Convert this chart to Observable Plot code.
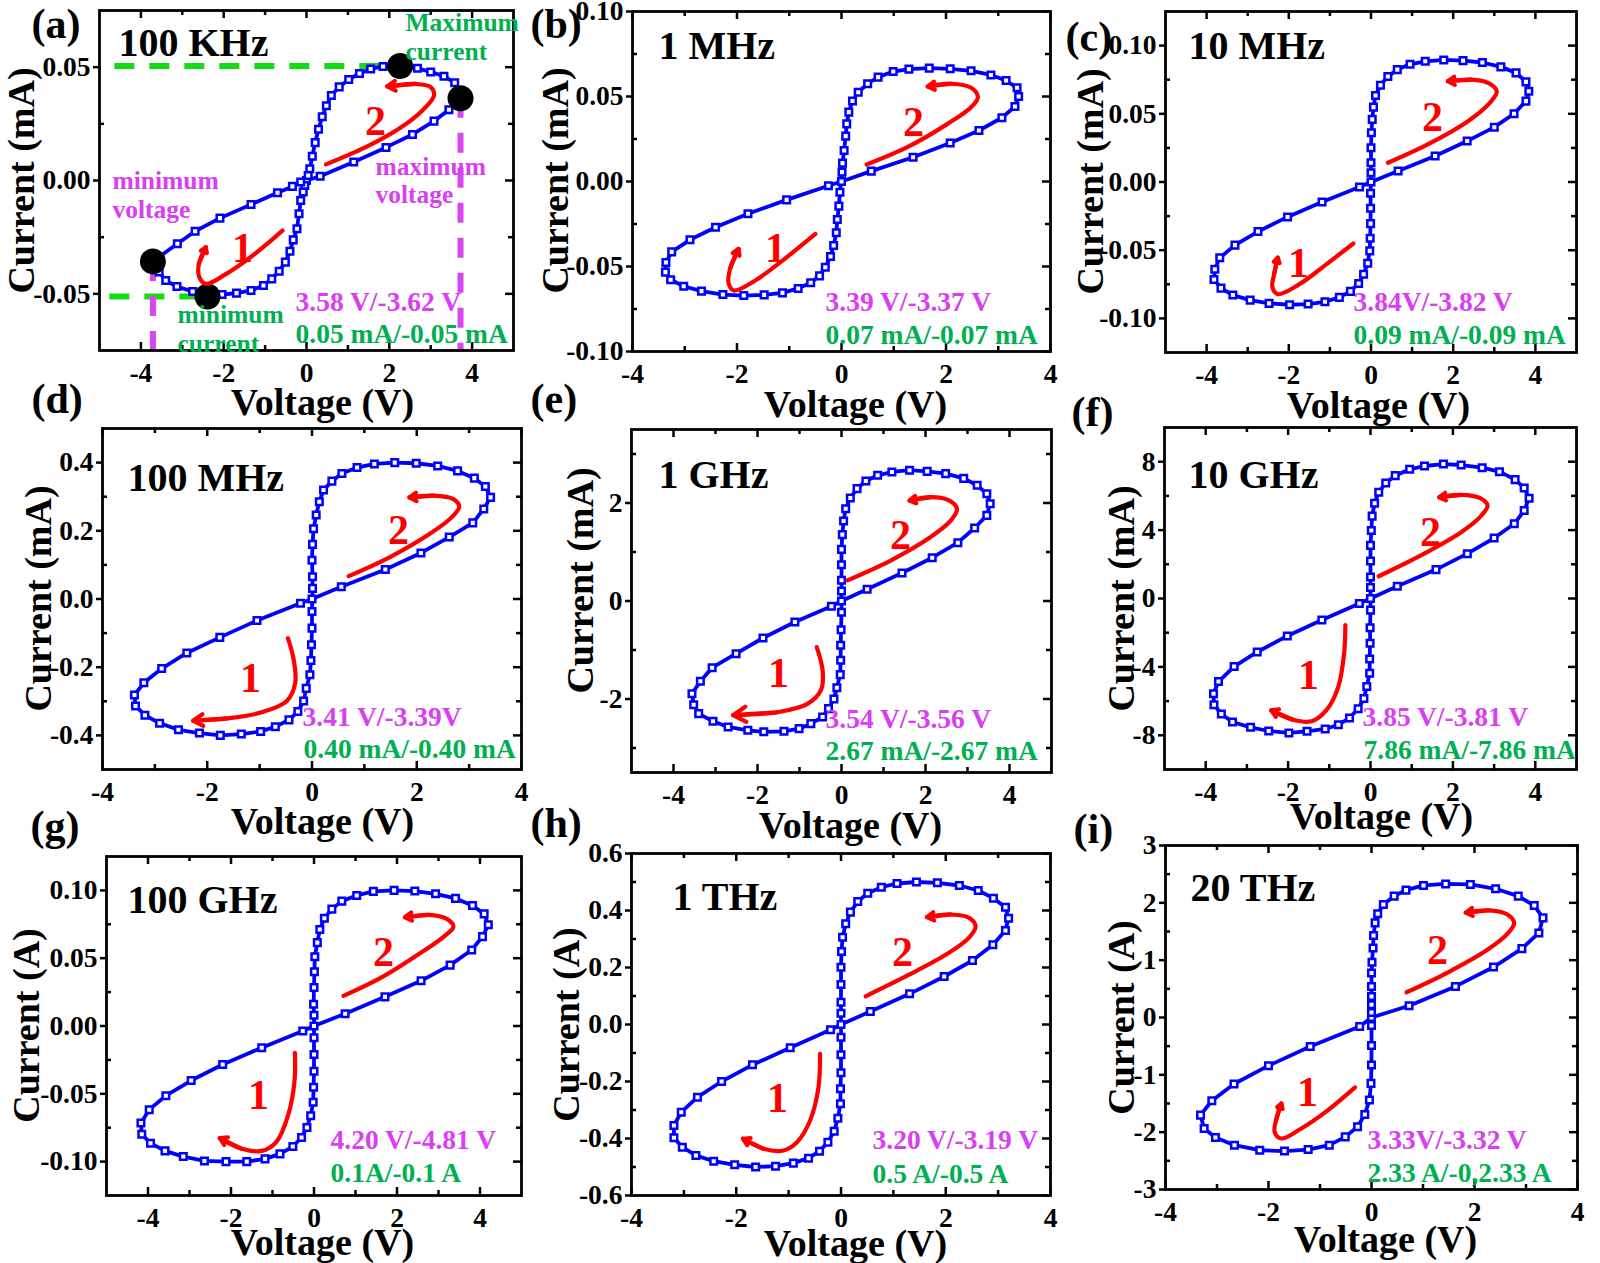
<!DOCTYPE html>
<html>
<head>
<meta charset="utf-8">
<script src="https://cdn.jsdelivr.net/npm/d3@7"></script>
<script src="https://cdn.jsdelivr.net/npm/@observablehq/plot@0.6"></script>
<style>
  html, body { margin: 0; padding: 0; background: #fff; }
  #fig { position: relative; width: 1600px; height: 1263px; overflow: hidden; background: #fff; }
  #fig svg { position: absolute; left: 0; top: 0; }
</style>
</head>
<body>
<div id="fig"></div>
<script>
// ---------- measured I–V loops: [voltage (V), current] ----------
const loopA = [[0,0],[0.33,0.0019],[1.14,0.0082],[1.92,0.0146],[2.56,0.0203],[3.08,0.0262],[3.44,0.0312],[3.72,0.0363],[3.58,0.0431],[3.32,0.0460],[3.00,0.0479],[2.68,0.0495],[2.26,0.0505],[1.85,0.0503],[1.55,0.0492],[1.28,0.0472],[1.02,0.0446],[0.79,0.0413],[0.60,0.0375],[0.48,0.0330],[0.38,0.0281],[0.29,0.0226],[0.21,0.0167],[0.14,0.0107],[0.08,0.0052],[0.04,0.0022],
  [-0.04,-0.0022],[-0.08,-0.0051],[-0.14,-0.0088],[-0.18,-0.0147],[-0.23,-0.0213],[-0.32,-0.0262],[-0.40,-0.0312],[-0.51,-0.0360],[-0.66,-0.0400],[-0.84,-0.0434],[-1.04,-0.0463],[-1.34,-0.0485],[-1.69,-0.0497],[-2.04,-0.0503],[-2.39,-0.0512],[-2.75,-0.0490],[-3.13,-0.0468],[-3.40,-0.0441],[-3.56,-0.0404],[-3.71,-0.0357],[-3.12,-0.0279],[-2.69,-0.0224],[-2.09,-0.0166],[-1.34,-0.0106],[-0.70,-0.0054],[-0.34,-0.0026],[-0.14,-0.0007]];
const loopB = [[0,0],[0.57,0.0061],[1.37,0.0143],[2.08,0.0226],[2.63,0.0300],[3.07,0.0375],[3.32,0.0441],[3.39,0.0500],[3.36,0.0551],[3.15,0.0594],[2.86,0.0627],[2.48,0.0651],[2.08,0.0663],[1.68,0.0667],[1.29,0.0661],[0.99,0.0647],[0.70,0.0614],[0.50,0.0575],[0.32,0.0525],[0.21,0.0473],[0.14,0.0408],[0.10,0.0339],[0.08,0.0267],[0.05,0.0182],[0.02,0.0108],[0.01,0.0055],
  [-0.03,-0.0063],[-0.05,-0.0145],[-0.08,-0.0224],[-0.10,-0.0302],[-0.15,-0.0376],[-0.21,-0.0441],[-0.31,-0.0504],[-0.42,-0.0555],[-0.59,-0.0596],[-0.83,-0.0629],[-1.13,-0.0655],[-1.48,-0.0667],[-1.87,-0.0671],[-2.27,-0.0665],[-2.68,-0.0645],[-3.02,-0.0616],[-3.27,-0.0578],[-3.37,-0.0533],[-3.36,-0.0476],[-3.25,-0.0414],[-2.90,-0.0343],[-2.41,-0.0269],[-1.79,-0.0190],[-1.05,-0.0108],[-0.25,-0.0025]];
const loopC = [[0,0],[0.66,0.0081],[1.56,0.0190],[2.34,0.0300],[3.00,0.0402],[3.48,0.0500],[3.77,0.0593],[3.84,0.0666],[3.77,0.0734],[3.53,0.0800],[3.16,0.0844],[2.71,0.0876],[2.24,0.0890],[1.77,0.0895],[1.32,0.0885],[0.95,0.0863],[0.64,0.0824],[0.41,0.0773],[0.23,0.0710],[0.11,0.0634],[0.06,0.0549],[0.03,0.0459],[0.01,0.0361],[0,0.0251],[0,0.0141],[0,0.0068],
  [-0.01,-0.0083],[-0.01,-0.0193],[-0.01,-0.0305],[-0.02,-0.0412],[-0.03,-0.0505],[-0.08,-0.0595],[-0.18,-0.0676],[-0.30,-0.0744],[-0.50,-0.0802],[-0.77,-0.0846],[-1.12,-0.0878],[-1.53,-0.0895],[-1.98,-0.0900],[-2.48,-0.0890],[-2.94,-0.0866],[-3.36,-0.0829],[-3.65,-0.0778],[-3.82,-0.0715],[-3.80,-0.0639],[-3.68,-0.0556],[-3.31,-0.0463],[-2.75,-0.0363],[-2.03,-0.0256],[-1.19,-0.0146],[-0.28,-0.0037]];
const loopD = [[0,0],[0.56,0.0359],[1.40,0.0864],[2.08,0.135],[2.62,0.1816],[3.07,0.2233],[3.28,0.2641],[3.41,0.2981],[3.31,0.3301],[3.10,0.3544],[2.78,0.3757],[2.40,0.3903],[1.99,0.3981],[1.58,0.4000],[1.19,0.3961],[0.86,0.3854],[0.57,0.3680],[0.38,0.3456],[0.22,0.3194],[0.14,0.2854],[0.08,0.2466],[0.03,0.2058],[0.01,0.1602],[0,0.1136],[0.01,0.0650],[0.01,0.0311],
  [0,-0.0369],[0,-0.0854],[-0.01,-0.1340],[-0.02,-0.1806],[-0.04,-0.2223],[-0.11,-0.2621],[-0.16,-0.2990],[-0.27,-0.3301],[-0.44,-0.3544],[-0.70,-0.3748],[-0.98,-0.3883],[-1.35,-0.3961],[-1.75,-0.4000],[-2.15,-0.3932],[-2.55,-0.3835],[-2.91,-0.3641],[-3.19,-0.3408],[-3.37,-0.3136],[-3.39,-0.2816],[-3.21,-0.2456],[-2.87,-0.2039],[-2.39,-0.1583],[-1.76,-0.1126],[-1.05,-0.0631],[-0.22,-0.0126]];
const loopE = [[0,0],[0.61,0.238],[1.44,0.571],[2.16,0.884],[2.77,1.190],[3.17,1.490],[3.46,1.748],[3.54,1.986],[3.46,2.190],[3.23,2.361],[2.91,2.503],[2.48,2.599],[2.04,2.646],[1.62,2.670],[1.20,2.633],[0.86,2.565],[0.58,2.449],[0.37,2.293],[0.21,2.102],[0.10,1.884],[0.05,1.633],[0.02,1.354],[0,1.054],[0,0.741],[0,0.422],[0,0.204],
  [0,-0.231],[-0.01,-0.585],[-0.02,-0.905],[-0.02,-1.211],[-0.03,-1.503],[-0.11,-1.769],[-0.18,-2.000],[-0.31,-2.197],[-0.45,-2.367],[-0.73,-2.503],[-1.01,-2.605],[-1.37,-2.660],[-1.85,-2.670],[-2.23,-2.639],[-2.70,-2.571],[-3.06,-2.456],[-3.40,-2.299],[-3.52,-2.116],[-3.56,-1.891],[-3.36,-1.639],[-3.08,-1.361],[-2.51,-1.075],[-1.87,-0.755],[-1.11,-0.429],[-0.24,-0.109]];
const loopF = [[0,0],[0.65,0.718],[1.59,1.689],[2.35,2.621],[3.00,3.534],[3.49,4.369],[3.73,5.146],[3.85,5.864],[3.73,6.466],[3.51,6.951],[3.13,7.417],[2.71,7.650],[2.20,7.806],[1.77,7.860],[1.31,7.748],[0.95,7.553],[0.60,7.184],[0.37,6.757],[0.20,6.214],[0.10,5.573],[0.04,4.816],[0.02,3.981],[0,3.107],[0,2.194],[0,1.262],[0,0.641],
  [0,-0.680],[-0.01,-1.709],[-0.01,-2.621],[-0.02,-3.534],[-0.02,-4.369],[-0.09,-5.146],[-0.16,-5.845],[-0.30,-6.447],[-0.51,-6.990],[-0.78,-7.379],[-1.10,-7.631],[-1.54,-7.767],[-1.98,-7.860],[-2.47,-7.748],[-2.91,-7.534],[-3.35,-7.223],[-3.62,-6.757],[-3.80,-6.214],[-3.81,-5.573],[-3.69,-4.854],[-3.31,-3.981],[-2.75,-3.126],[-2.02,-2.194],[-1.18,-1.262],[-0.27,-0.291]];
const loopG = [[0,0],[0.75,0.0091],[1.71,0.0215],[2.58,0.0333],[3.28,0.0449],[3.80,0.0560],[4.06,0.0659],[4.20,0.0746],[4.10,0.0827],[3.82,0.0889],[3.41,0.0941],[2.93,0.0975],[2.43,0.0995],[1.93,0.1000],[1.43,0.0993],[1.03,0.0963],[0.67,0.0921],[0.43,0.0862],[0.25,0.0795],[0.14,0.0711],[0.08,0.0615],[0.02,0.0511],[0.01,0.0400],[0,0.0284],[-0.01,0.0160],[0,0.0079],
  [0,-0.0086],[0,-0.0210],[0,-0.0333],[-0.01,-0.0452],[-0.02,-0.0563],[-0.08,-0.0662],[-0.17,-0.0748],[-0.30,-0.0822],[-0.51,-0.0889],[-0.82,-0.0943],[-1.18,-0.0980],[-1.62,-0.1000],[-2.12,-0.1000],[-2.64,-0.0995],[-3.15,-0.0963],[-3.59,-0.0921],[-3.94,-0.0864],[-4.15,-0.0798],[-4.17,-0.0716],[-3.97,-0.0617],[-3.57,-0.0514],[-2.96,-0.0402],[-2.20,-0.0284],[-1.26,-0.0160],[-0.27,-0.0037]];
const loopH = [[0,0],[0.56,0.0456],[1.31,0.1076],[1.97,0.1684],[2.51,0.2246],[2.90,0.2795],[3.14,0.3298],[3.20,0.3731],[3.14,0.4117],[2.91,0.4433],[2.62,0.4702],[2.26,0.4877],[1.84,0.4971],[1.44,0.5000],[1.07,0.4947],[0.77,0.4819],[0.51,0.4608],[0.32,0.4316],[0.18,0.3942],[0.09,0.3532],[0.03,0.3064],[0.01,0.2561],[0,0.2012],[0,0.1404],[0,0.0784],[0,0.0398],
  [0,-0.0444],[0,-0.1064],[0,-0.1696],[-0.01,-0.2257],[-0.01,-0.2784],[-0.06,-0.3287],[-0.13,-0.3743],[-0.25,-0.4129],[-0.41,-0.4444],[-0.62,-0.4690],[-0.91,-0.4865],[-1.25,-0.4971],[-1.63,-0.5000],[-2.03,-0.4924],[-2.43,-0.4795],[-2.77,-0.4596],[-3.03,-0.4304],[-3.19,-0.3977],[-3.19,-0.3544],[-3.05,-0.3076],[-2.74,-0.2550],[-2.28,-0.2000],[-1.69,-0.1415],[-0.97,-0.0819],[-0.20,-0.0187]];
const loopI = [[0,0],[0.73,0.204],[1.63,0.542],[2.37,0.880],[2.92,1.201],[3.25,1.475],[3.33,1.738],[3.16,1.953],[2.85,2.117],[2.41,2.245],[1.92,2.321],[1.44,2.330],[1.01,2.303],[0.67,2.222],[0.44,2.117],[0.23,1.971],[0.12,1.808],[0.07,1.650],[0.04,1.429],[0.03,1.213],[0.01,0.962],[0,0.776],[0,0.542],[0,0.367],[0,0.222],[0,0.087],
  [0,-0.140],[0,-0.490],[0,-0.828],[-0.01,-1.149],[-0.04,-1.440],[-0.13,-1.691],[-0.27,-1.907],[-0.51,-2.082],[-0.82,-2.227],[-1.23,-2.303],[-1.69,-2.330],[-2.17,-2.315],[-2.66,-2.227],[-3.03,-2.093],[-3.25,-1.936],[-3.32,-1.703],[-3.10,-1.452],[-2.67,-1.160],[-2.00,-0.840],[-1.19,-0.507],[-0.23,-0.157]];

// ---------- sweep-direction arrows (paths in V, I; last point is the tip) ----------
const arrowA1 = [[-0.58,-0.0221],[-1.30,-0.0331],[-1.94,-0.0412],[-2.43,-0.0456],[-2.59,-0.0426],[-2.60,-0.0368],[-2.43,-0.0294]];
const arrowA2 = [[0.47,0.0071],[1.43,0.0147],[2.23,0.0228],[2.80,0.0309],[3.08,0.0375],[3.00,0.0412],[2.63,0.0426],[1.95,0.0415]];
const arrowB1 = [[-0.50,-0.0308],[-1.13,-0.0465],[-1.65,-0.0582],[-2.06,-0.0641],[-2.16,-0.0600],[-2.13,-0.0510],[-1.97,-0.0396]];
const arrowB2 = [[0.48,0.0100],[1.26,0.0202],[2.03,0.0339],[2.48,0.0437],[2.61,0.0496],[2.48,0.0551],[2.10,0.0575],[1.65,0.0559]];
const arrowC1 = [[-0.43,-0.0451],[-1.08,-0.0602],[-1.74,-0.0749],[-2.27,-0.0822],[-2.40,-0.0770],[-2.36,-0.0680],[-2.27,-0.0554]];
const arrowC2 = [[0.41,0.0141],[1.38,0.0276],[2.36,0.0446],[2.89,0.0580],[3.06,0.0666],[2.85,0.0727],[2.44,0.0751],[1.87,0.0739]];
const arrowD1 = [[-0.46,-0.115],[-0.35,-0.178],[-0.32,-0.246],[-0.48,-0.299],[-0.98,-0.333],[-1.62,-0.350],[-2.27,-0.357]];
const arrowD2 = [[0.70,0.067],[1.49,0.123],[2.25,0.191],[2.67,0.240],[2.81,0.271],[2.70,0.293],[2.32,0.303],[1.86,0.298]];
const arrowE1 = [[-0.59,-0.94],[-0.45,-1.41],[-0.49,-1.82],[-0.81,-2.10],[-1.53,-2.27],[-2.58,-2.33]];
const arrowE2 = [[0.14,0.42],[1.18,0.83],[2.13,1.31],[2.61,1.65],[2.75,1.88],[2.57,2.05],[2.13,2.12],[1.62,2.05]];
const arrowF1 = [[-0.61,-1.55],[-0.64,-3.20],[-0.78,-5.15],[-1.06,-6.50],[-1.43,-7.18],[-1.88,-7.09],[-2.41,-6.54]];
const arrowF2 = [[0.20,1.30],[1.22,2.52],[2.20,3.88],[2.69,4.85],[2.84,5.44],[2.65,5.88],[2.20,6.06],[1.67,5.92]];
const arrowG1 = [[-0.46,-0.0198],[-0.47,-0.0407],[-0.62,-0.0654],[-0.90,-0.0852],[-1.26,-0.0921],[-1.74,-0.0906],[-2.27,-0.0827]];
const arrowG2 = [[0.71,0.0222],[1.63,0.0358],[2.59,0.0543],[3.16,0.0667],[3.36,0.0733],[3.20,0.0790],[2.76,0.0820],[2.19,0.0802]];
const arrowH1 = [[-0.40,-0.103],[-0.43,-0.220],[-0.59,-0.337],[-0.84,-0.413],[-1.10,-0.442],[-1.48,-0.436],[-1.87,-0.401]];
const arrowH2 = [[0.47,0.099],[1.27,0.172],[2.03,0.248],[2.45,0.306],[2.57,0.344],[2.45,0.374],[2.10,0.386],[1.64,0.377]];
const arrowI1 = [[-0.32,-1.22],[-0.85,-1.62],[-1.37,-1.94],[-1.75,-2.11],[-1.88,-2.00],[-1.85,-1.78],[-1.75,-1.50]];
const arrowI2 = [[0.68,0.44],[1.47,0.78],[2.25,1.18],[2.66,1.48],[2.77,1.65],[2.63,1.80],[2.28,1.87],[1.83,1.83]];

// left ends (V) of the two green current guides in panel (a): maximum, minimum
const guideStartV = [-4.63, -4.75];

// ---------- tick values ----------
const xMajor = [-4, -2, 0, 2, 4];
const xMinor = [-3, -1, 1, 3];
const yMajorSmall = [-0.1, -0.05, 0, 0.05, 0.1];
const yMinorSmall = [-0.075, -0.025, 0.025, 0.075];
const yMajorA = [-0.05, 0, 0.05];
const yMinorA = [-0.025, 0.025];
const yMajorD = [-0.4, -0.2, 0, 0.2, 0.4];
const yMinorD = [-0.3, -0.1, 0.1, 0.3];
const yMajorE = [-2, 0, 2];
const yMinorE = [-3, -1, 1, 3];
const yMajorF = [-8, -4, 0, 4, 8];
const yMinorF = [-6, -2, 2, 6];
const yMajorH = [-0.6, -0.4, -0.2, 0, 0.2, 0.4, 0.6];
const yMinorH = [-0.5, -0.3, -0.1, 0.1, 0.3, 0.5];
const yMajorI = [-3, -2, -1, 0, 1, 2, 3];
const yMinorI = [-2.5, -1.5, -0.5, 0.5, 1.5, 2.5];

// ---------- texts ----------
const panelLetters = ["(a)", "(b)", "(c)", "(d)", "(e)", "(f)", "(g)", "(h)", "(i)"];
const freqLabels = ["100 KHz", "1 MHz", "10 MHz", "100 MHz", "1 GHz", "10 GHz", "100 GHz", "1 THz", "20 THz"];
const voltageRanges = ["3.58 V/-3.62 V", "3.39 V/-3.37 V", "3.84V/-3.82 V", "3.41 V/-3.39V", "3.54 V/-3.56 V", "3.85 V/-3.81 V", "4.20 V/-4.81 V", "3.20 V/-3.19 V", "3.33V/-3.32 V"];
const currentRanges = ["0.05 mA/-0.05 mA", "0.07 mA/-0.07 mA", "0.09 mA/-0.09 mA", "0.40 mA/-0.40 mA", "2.67 mA/-2.67 mA", "7.86 mA/-7.86 mA", "0.1A/-0.1 A", "0.5 A/-0.5 A", "2.33 A/-0,2.33 A"];
const xTitle = "Voltage (V)";
const yTitles = ["Current (mA)", "Current (A)"];
const callouts = [["Maximum", "current"], ["maximum", "voltage"], ["minimum", "voltage"], ["minimum", "current"]];

// ---------- styling ----------
const SERIF = "'Liberation Serif', 'Times New Roman', Times, serif";
const BLUE = "#0000ff", RED = "#ff0000", MAGENTA = "#d93ef2", GREEN = "#00b050";
const DASH_GREEN = "#12dd12", DASH_MAGENTA = "#d846ef";
const W = 1600, H = 1263;

// frame rectangle (page px) and text anchors for each panel
const layout = [
  {L: 99,  R: 513,  T: 10,  B: 350,  x: [-5, 5], y: [-0.075, 0.075], yMajor: yMajorA, yMinor: yMinorA, dig: 2, unit: 0,
   letter: [31, 37], freq: [118, 55], v: [295, 310], i: [295, 342], one: [242, 248], two: [375, 121], xt: [322, 414], yt: [33, 180]},
  {L: 632, R: 1050, T: 11,  B: 351,  x: [-4, 4], y: [-0.1, 0.1], yMajor: yMajorSmall, yMinor: yMinorSmall, dig: 2, unit: 0,
   letter: [530, 37], freq: [658, 58], v: [825, 310], i: [825, 343], one: [775, 248], two: [913, 122], xt: [855, 416], yt: [567, 180]},
  {L: 1165, R: 1576, T: 11, B: 352,  x: [-5, 5], y: [-0.125, 0.125], yMajor: yMajorSmall, yMinor: yMinorSmall, dig: 2, unit: 0,
   letter: [1065, 50], freq: [1188, 58], v: [1353, 310], i: [1353, 343], one: [1298, 263], two: [1432, 117], xt: [1378, 417], yt: [1102, 181]},
  {L: 102, R: 521,  T: 428, B: 769,  x: [-4, 4], y: [-0.5, 0.5], yMajor: yMajorD, yMinor: yMinorD, dig: 1, unit: 0,
   letter: [31, 412], freq: [127, 490], v: [302, 725], i: [303, 757], one: [250, 678], two: [398, 530], xt: [322, 833], yt: [50, 598]},
  {L: 631, R: 1051, T: 429, B: 772,  x: [-5, 5], y: [-3.5, 3.5], yMajor: yMajorE, yMinor: yMinorE, dig: 0, unit: 0,
   letter: [530, 412], freq: [658, 487], v: [825, 727], i: [825, 759], one: [778, 673], two: [900, 535], xt: [850, 837], yt: [592, 580]},
  {L: 1164, R: 1576, T: 427, B: 769, x: [-5, 5], y: [-10, 10], yMajor: yMajorF, yMinor: yMinorF, dig: 0, unit: 0,
   letter: [1071, 425], freq: [1188, 487], v: [1362, 725], i: [1363, 758], one: [1308, 675], two: [1430, 532], xt: [1381, 828], yt: [1133, 598]},
  {L: 106, R: 521,  T: 856, B: 1195, x: [-5, 5], y: [-0.125, 0.125], yMajor: yMajorSmall, yMinor: yMinorSmall, dig: 2, unit: 1,
   letter: [30, 839], freq: [127, 912], v: [330, 1148], i: [330, 1181], one: [258, 1095], two: [383, 952], xt: [322, 1254], yt: [38, 1025]},
  {L: 631, R: 1050, T: 853, B: 1195, x: [-4, 4], y: [-0.6, 0.6], yMajor: yMajorH, yMinor: yMinorH, dig: 1, unit: 1,
   letter: [530, 836], freq: [672, 909], v: [872, 1148], i: [872, 1182], one: [777, 1098], two: [902, 952], xt: [855, 1255], yt: [578, 1024]},
  {L: 1165, R: 1577, T: 845, B: 1189, x: [-4, 4], y: [-3, 3], yMajor: yMajorI, yMinor: yMinorI, dig: 0, unit: 1,
   letter: [1073, 842], freq: [1190, 900], v: [1367, 1148], i: [1367, 1181], one: [1307, 1092], two: [1437, 950], xt: [1385, 1251], yt: [1133, 1017]}
];
const loops = [loopA, loopB, loopC, loopD, loopE, loopF, loopG, loopH, loopI];
const arrows = [[arrowA1, arrowA2], [arrowB1, arrowB2], [arrowC1, arrowC2], [arrowD1, arrowD2], [arrowE1, arrowE2],
                [arrowF1, arrowF2], [arrowG1, arrowG2], [arrowH1, arrowH2], [arrowI1, arrowI2]];

// text placed at a page position (px), expressed relative to the frame's top-left corner
function label(f, [px, py], str, opts = {}) {
  return Plot.text([str], {
    text: d => d, frameAnchor: "top-left", dx: px - f.L, dy: py - f.T,
    textAnchor: "start", lineAnchor: "bottom", ...opts
  });
}

function arrowMarks(path) {
  const n = path.length;
  return [
    Plot.line(path, {x: d => d[0], y: d => d[1], curve: "catmull-rom", stroke: RED, strokeWidth: 4.2, strokeLinecap: "round"}),
    Plot.arrow([[path[n - 2], path[n - 1]]], {
      x1: d => d[0][0], y1: d => d[0][1], x2: d => d[1][0], y2: d => d[1][1],
      stroke: RED, strokeWidth: 4.2, headLength: 24, headAngle: 62
    })
  ];
}

// extra marks for panel (a): extreme points and their dashed guides
function extremesMarks(loop, f) {
  const iMaxV = d3.maxIndex(loop, d => d[0]);
  const iMinV = d3.minIndex(loop, d => d[0]);
  const iMaxI = d3.maxIndex(loop, d => d[1]);
  const iMinI = d3.minIndex(loop, d => d[1]);
  const pts = [loop[iMaxV], loop[iMaxI], loop[iMinV], loop[iMinI]];
  const dash = {strokeWidth: 6, strokeDasharray: "20,15"};
  return {
    guides: [
      Plot.ruleY([[guideStartV[0], loop[iMaxI][0], loop[iMaxI][1]]], {x1: d => d[0], x2: d => d[1], y: d => d[2], stroke: DASH_GREEN, ...dash}),
      Plot.ruleY([[guideStartV[1], loop[iMinI][0], loop[iMinI][1]]], {x1: d => d[0], x2: d => d[1], y: d => d[2], stroke: DASH_GREEN, ...dash}),
      Plot.ruleX([loop[iMaxV], loop[iMinV]], {x: d => d[0], y1: d => d[1], y2: f.y[0], stroke: DASH_MAGENTA, ...dash})
    ],
    dots: Plot.dot(pts, {x: d => d[0], y: d => d[1], r: 13, fill: "black"})
  };
}

const fig = document.getElementById("fig");

layout.forEach((f, k) => {
  const loop = loops[k];
  const innerW = f.R - f.L, innerH = f.B - f.T;
  const fmtY = d => d.toFixed(f.dig);
  const extra = k === 0 ? extremesMarks(loop, f) : null;

  const marks = [
    ...(extra ? extra.guides : []),
    // hysteresis loop
    Plot.line([...loop, loop[0]], {x: d => d[0], y: d => d[1], stroke: BLUE, strokeWidth: 3.8, strokeLinejoin: "round"}),
    Plot.dot(loop, {x: d => d[0], y: d => d[1], symbol: "square", r: 3.7, fill: "white", stroke: BLUE, strokeWidth: 2.5}),
    ...(extra ? [extra.dots] : []),
    // sweep direction arrows and their order numbers
    ...arrowMarks(arrows[k][0]),
    ...arrowMarks(arrows[k][1]),
    label(f, f.one, "1", {fill: RED, fontSize: 42, textAnchor: "middle", lineAnchor: "middle"}),
    label(f, f.two, "2", {fill: RED, fontSize: 42, textAnchor: "middle", lineAnchor: "middle"}),
    // frame and ticks
    Plot.frame({stroke: "black", strokeWidth: 2.8}),
    Plot.tickX(xMajor, {x: d => d, insetTop: innerH - 8, strokeWidth: 2.5}),
    Plot.tickX(xMinor, {x: d => d, insetTop: innerH - 5, strokeWidth: 2.5}),
    Plot.tickX(xMajor, {x: d => d, insetBottom: innerH - 8, strokeWidth: 2.5}),
    Plot.tickX(xMinor, {x: d => d, insetBottom: innerH - 5, strokeWidth: 2.5}),
    Plot.tickY(f.yMajor, {y: d => d, insetLeft: innerW - 8, strokeWidth: 2.5}),
    Plot.tickY(f.yMinor, {y: d => d, insetLeft: innerW - 5, strokeWidth: 2.5}),
    Plot.tickY(f.yMinor, {y: d => d, insetRight: innerW - 5, strokeWidth: 2.5}),
    Plot.axisY({anchor: "left", ticks: f.yMajor, tickFormat: fmtY, tickSize: 6, tickPadding: 3, strokeWidth: 2.5, fontSize: 27.5, label: null}),
    Plot.axisX({anchor: "bottom", ticks: xMajor, tickFormat: d => String(d), tickSize: 0, tickPadding: 12, fontSize: 27.5, label: null}),
    // axis titles
    label(f, f.xt, xTitle, {fontSize: 38, textAnchor: "middle"}),
    label(f, f.yt, yTitles[f.unit], {fontSize: 38, textAnchor: "middle", rotate: -90}),
    // panel letter, frequency, extreme values
    label(f, f.letter, panelLetters[k], {fontSize: 42}),
    label(f, f.freq, freqLabels[k], {fontSize: 40}),
    label(f, f.v, voltageRanges[k], {fontSize: 27.5, fill: MAGENTA}),
    label(f, f.i, currentRanges[k], {fontSize: 27.5, fill: GREEN})
  ];

  if (k === 0) {
    marks.push(
      label(f, [405, 30], callouts[0][0], {fontSize: 25.5, fill: GREEN}),
      label(f, [405, 59], callouts[0][1], {fontSize: 25.5, fill: GREEN}),
      label(f, [375, 174], callouts[1][0], {fontSize: 25.5, fill: MAGENTA}),
      label(f, [375, 202], callouts[1][1], {fontSize: 25.5, fill: MAGENTA}),
      label(f, [112, 188], callouts[2][0], {fontSize: 25.5, fill: MAGENTA}),
      label(f, [112, 217], callouts[2][1], {fontSize: 25.5, fill: MAGENTA}),
      label(f, [177, 322], callouts[3][0], {fontSize: 25.5, fill: GREEN}),
      label(f, [177, 351], callouts[3][1], {fontSize: 25.5, fill: GREEN})
    );
  }

  const svg = Plot.plot({
    width: W, height: H,
    marginLeft: f.L, marginRight: W - f.R, marginTop: f.T, marginBottom: H - f.B,
    x: {domain: f.x, axis: null},
    y: {domain: f.y, axis: null},
    style: {background: "transparent", fontFamily: SERIF, fontWeight: "bold", fontSize: "27px", overflow: "visible", maxWidth: "none"},
    marks
  });
  fig.appendChild(svg);
});
</script>
</body>
</html>
